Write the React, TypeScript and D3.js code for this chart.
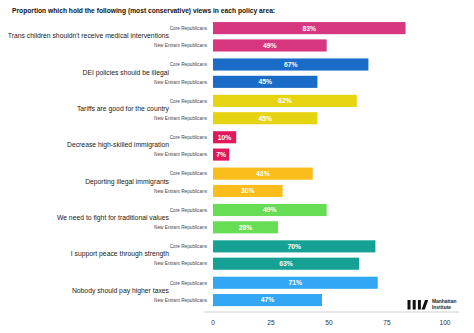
import React from "react";
import * as d3 from "d3";

const W = 474;
const H = 333;

const title = "Proportion which hold the following (most conservative) views in each policy area:";
const categories = [
  "Trans children shouldn't receive medical interventions",
  "DEI policies should be illegal",
  "Tariffs are good for the country",
  "Decrease high-skilled immigration",
  "Deporting illegal immigrants",
  "We need to fight for traditional values",
  "I support peace through strength",
  "Nobody should pay higher taxes",
];
const seriesNames = ["Core Republicans", "New Entrant Republicans"];
const coreValues = [83, 67, 62, 10, 43, 49, 70, 71];
const newEntrantValues = [49, 45, 45, 7, 30, 28, 63, 47];
const colors = ["#d6377f", "#1a6cc8", "#e6d412", "#e0195a", "#fbbd1c", "#66dd55", "#15a294", "#33a7f4"];
const ticks = [0, 25, 50, 75, 100];

const FONT = "'Liberation Sans', Arial, Helvetica, sans-serif";

export default function App() {
  const x = d3.scaleLinear().domain([0, 100]).range([213, 445]);
  const yGroup = d3.scaleBand<string>().domain(categories).range([18.6, 309.6]).padding(0);
  const ySeries = d3
    .scaleBand<string>()
    .domain(seriesNames)
    .range([0, yGroup.bandwidth()])
    .paddingInner(0.3)
    .paddingOuter(0.2);
  const values = [coreValues, newEntrantValues];

  return (
    <svg
      width={W}
      height={H}
      viewBox={`0 0 ${W} ${H}`}
      style={{ position: "fixed", left: 0, top: 0, background: "#fff" }}
      fontFamily={FONT}
    >
      <rect width={W} height={H} fill="#fff" />
      <text x={12} y={13} fontSize={6.7} fontWeight="bold" fill="#111">
        {title}
      </text>

      {categories.map((cat, i) => {
        const gy = yGroup(cat)!;
        return (
          <g key={cat}>
            <text
              x={169}
              y={gy + yGroup.bandwidth() / 2 + 1.4}
              fontSize={6.8}
              textAnchor="end"
              fill="#1a1a1a"
            >
              {cat}
            </text>
            {seriesNames.map((s, j) => {
              const v = values[j][i];
              const by = gy + ySeries(s)!;
              const bh = ySeries.bandwidth();
              return (
                <g key={s}>
                  <text
                    x={207}
                    y={by + bh / 2 + 1.8}
                    fontSize={4.7}
                    textAnchor="end"
                    fill="#444"
                  >
                    {s}
                  </text>
                  <rect x={x(0)} y={by} width={x(v) - x(0)} height={bh} fill={colors[i]} />
                  <text
                    x={(x(0) + x(v)) / 2}
                    y={by + bh / 2 + 2.4}
                    fontSize={6.8}
                    fontWeight="bold"
                    textAnchor="middle"
                    fill="#fff"
                  >
                    {v}%
                  </text>
                </g>
              );
            })}
          </g>
        );
      })}

      <line x1={204} x2={459} y1={312} y2={312} stroke="#d0d0d0" strokeWidth={1} />
      {ticks.map((t) => (
        <text key={t} x={x(t)} y={324.5} fontSize={6.6} textAnchor="middle" fill="#333">
          {t}
        </text>
      ))}

      <g fill="#111">
        <rect x={407.5} y={300} width={3} height={9.5} />
        <rect x={412.7} y={300} width={3} height={9.5} />
        <rect x={417.9} y={300} width={3} height={9.5} />
        <polygon points="425,300 428.2,300 424.8,309.5 421.6,309.5" />
        <text x={432} y={303.3} fontSize={4.9} fontWeight="bold" fill="#222">
          Manhattan
        </text>
        <text x={432} y={308.6} fontSize={4.9} fontWeight="bold" fill="#222">
          Institute
        </text>
      </g>
    </svg>
  );
}
